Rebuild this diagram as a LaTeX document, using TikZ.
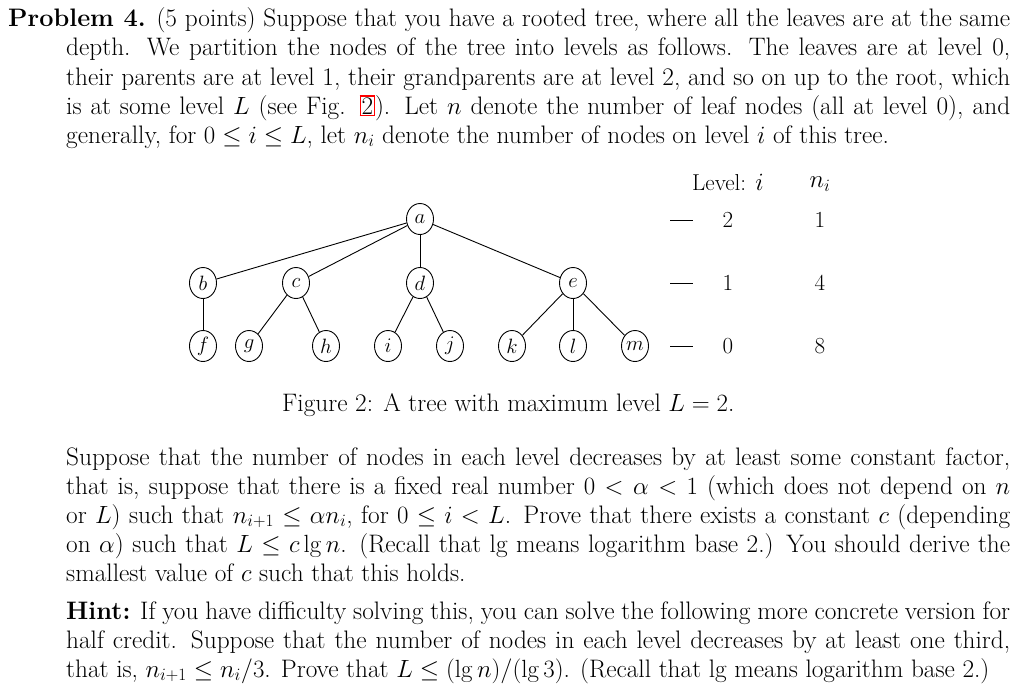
\documentclass[tikz,border=0pt]{standalone}
\usepackage{amsmath}
\usetikzlibrary{shapes.geometric}
\begin{document}
\begin{tikzpicture}[x=1pt,y=-1pt,
 ln/.style={anchor=base west,inner sep=0pt,font=\fontsize{25.3}{29}\selectfont},
 tn/.style={ellipse,draw,line width=0.9pt,minimum width=27pt,minimum height=31pt,inner sep=0pt,font=\fontsize{22}{24}\selectfont},
 ed/.style={line width=0.9pt},
 lb/.style={font=\fontsize{23}{26}\selectfont}]
\useasboundingbox (0,0) rectangle (1024,693);
\node[ln] (l1) at (8,27) {\makebox[1002pt][s]{\textbf{Problem 4.} (5 points) Suppose that you have a rooted tree, where all the leaves are at the same}};
\node[ln] (l2) at (66,56) {\makebox[944pt][s]{depth. We partition the nodes of the tree into levels as follows. The leaves are at level 0,}};
\node[ln] (l3) at (66,85) {\makebox[944pt][s]{their parents are at level 1, their grandparents are at level 2, and so on up to the root, which}};
\node[ln] (l4) at (66,114) {\makebox[944pt][s]{is at some level $L$ (see Fig. {\color{red}\fboxsep=0.5pt\fboxrule=1.4pt\fbox{\color{black}2}}). Let $n$ denote the number of leaf nodes (all at level 0), and}};
\node[ln] (l5) at (66,143) {generally, for $0\le i\le L$, let $n_i$ denote the number of nodes on level $i$ of this tree.};
% tree
\node[tn] (a) at (420,219) {$a$};
\node[tn] (b) at (203,283) {$b$};
\node[tn] (c) at (296,283) {$c$};
\node[tn] (d) at (420,283) {$d$};
\node[tn] (e) at (573,283) {$e$};
\node[tn] (f) at (203,346) {$f$};
\node[tn] (g) at (249,346) {$g$};
\node[tn] (h) at (326,346) {$h$};
\node[tn] (i) at (388,346) {$i$};
\node[tn] (j) at (450,346) {$j$};
\node[tn] (k) at (512,346) {$k$};
\node[tn] (l) at (573,346) {$l$};
\node[tn] (m) at (635,346) {$m$};
\foreach \p/\q in {a/b,a/c,a/d,a/e,b/f,c/g,c/h,d/i,d/j,e/k,e/l,e/m} \draw[ed] (\p) -- (\q);
\node[lb] (hl) at (728,182) {Level: $i$};
\node[lb] (hn) at (820,184) {$n_i$};
\foreach \y/\lv/\nn [count=\r] in {220/2/1,283/1/4,346/0/8}{
 \coordinate (d\r a) at (670,\y); \coordinate (d\r b) at (693,\y);
 \draw[ed] (d\r a) -- (d\r b);
 \node[lb] (lv\r) at (728,\y) {\lv};
 \node[lb] (nn\r) at (820,\y) {\nn};}
\node[ln] (cap) at (282,411) {Figure 2: A tree with maximum level $L=2$.};
\node[ln] (p1) at (66,465) {\makebox[944pt][s]{Suppose that the number of nodes in each level decreases by at least some constant factor,}};
\node[ln] (p2) at (66,494) {\makebox[944pt][s]{that is, suppose that there is a fixed real number $0<\alpha<1$ (which does not depend on $n$}};
\node[ln] (p3) at (66,523) {\makebox[944pt][s]{or $L$) such that $n_{i+1}\le\alpha n_i$, for $0\le i<L$. Prove that there exists a constant $c$ (depending}};
\node[ln] (p4) at (66,552) {\makebox[944pt][s]{on $\alpha$) such that $L\le c\lg n$. (Recall that lg means logarithm base 2.) You should derive the}};
\node[ln] (p5) at (66,581) {smallest value of $c$ such that this holds.};
\node[ln] (h1) at (66,619) {\makebox[944pt][s]{\textbf{Hint:} If you have difficulty solving this, you can solve the following more concrete version for}};
\node[ln] (h2) at (66,648) {\makebox[944pt][s]{half credit. Suppose that the number of nodes in each level decreases by at least one third,}};
\node[ln] (h3) at (66,677) {that is, $n_{i+1}\le n_i/3$. Prove that $L\le(\lg n)/(\lg 3)$. (Recall that lg means logarithm base 2.)};
\end{tikzpicture}
\end{document}
